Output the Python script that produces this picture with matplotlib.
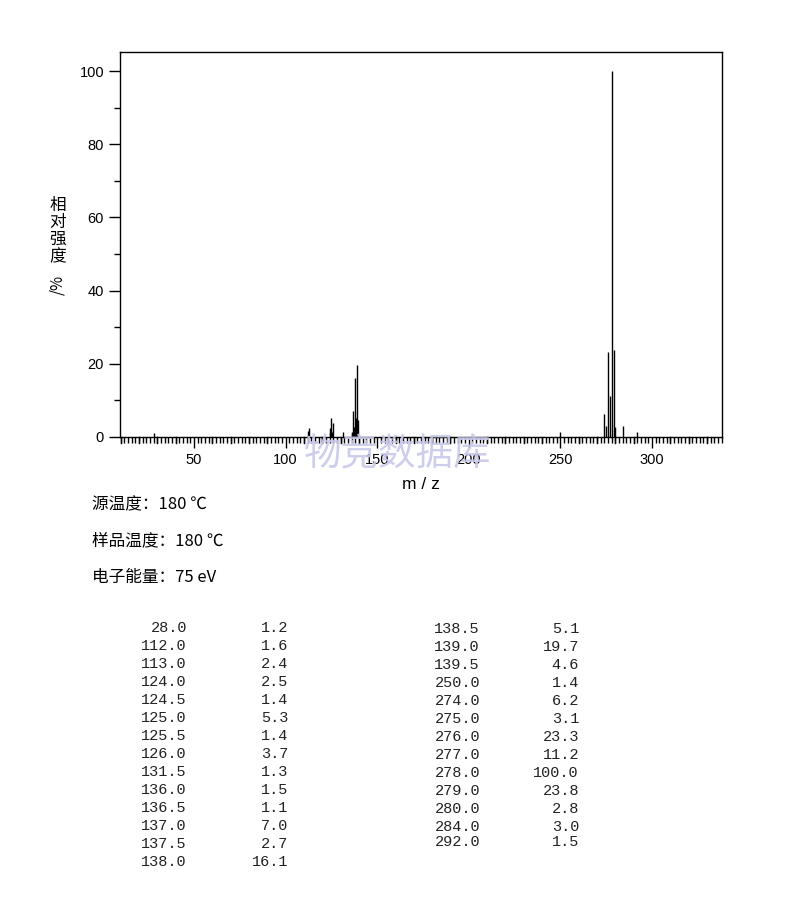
import numpy as np
import matplotlib.pyplot as plt
from matplotlib.ticker import MultipleLocator

# peak list (m/z, relative intensity %)
mz = [28.0, 112.0, 113.0, 124.0, 124.5, 125.0, 125.5, 126.0, 131.5, 136.0,
      136.5, 137.0, 137.5, 138.0, 138.5, 139.0, 139.5, 250.0, 274.0, 275.0,
      276.0, 277.0, 278.0, 279.0, 280.0, 284.0, 292.0]
inten = [1.2, 1.6, 2.4, 2.5, 1.4, 5.3, 1.4, 3.7, 1.3, 1.5,
         1.1, 7.0, 2.7, 16.1, 5.1, 19.7, 4.6, 1.4, 6.2, 3.1,
         23.3, 11.2, 100.0, 23.8, 2.8, 3.0, 1.5]

info = ['源温度：180 ℃', '样品温度：180 ℃', '电子能量：75 eV']

cjk = ['Noto Sans CJK SC', 'DejaVu Sans']

fig = plt.figure(figsize=(7.94, 9.07), dpi=100)
ax = fig.add_axes([0.1511, 0.5182, 0.7582, 0.4245])

ax.vlines(mz, 0, inten, color='black', linewidth=1)
ax.set_xlim(9.6, 338.2)
ax.set_ylim(0, 105.2)

ax.xaxis.set_major_locator(MultipleLocator(50))
ax.xaxis.set_minor_locator(MultipleLocator(2))
ax.yaxis.set_major_locator(MultipleLocator(20))
ax.yaxis.set_minor_locator(MultipleLocator(10))
ax.tick_params(axis='both', which='major', length=8, width=1, labelsize=10.5)
ax.tick_params(axis='both', which='minor', length=4, width=1)
for lab in ax.get_xticklabels() + ax.get_yticklabels():
    lab.set_fontfamily('Liberation Sans')

# medium ticks every 10
for x in range(10, 340, 10):
    if x % 50 != 0:
        ax.plot([x, x], [0, -1.6], color='black', linewidth=1, clip_on=False)

for s in ax.spines.values():
    s.set_linewidth(1)

ax.set_xlabel('m / z', fontsize=12.5, family='Liberation Sans', labelpad=7)

# y label, stacked characters
fig.text(58 / 794, 1 - 197 / 907, '相\n对\n强\n度', family=cjk, fontsize=12,
         ha='center', va='top', linespacing=1.0)
fig.text(58 / 794, 1 - 285 / 907, '/%', family=cjk, fontsize=11,
         ha='center', va='center', rotation=90)

# watermark
fig.text(398 / 794, 1 - 455 / 907, '物竞数据库', family=cjk, fontsize=27,
         color='#c8c8ea', ha='center', va='center', alpha=0.9, zorder=5)

# instrument info
for i, t in enumerate(info):
    fig.text(92 / 794, 1 - (505 + 36 * i) / 907, t, family=cjk, fontsize=12,
             ha='left', va='center')

# peak table
n_left = 14
for i in range(len(mz)):
    if i < n_left:
        xa, xb, y = 187, 288, 628 + 18 * i
    else:
        j = i - n_left
        xa, xb, y = 480, 579, 629 + 18 * j
        if j == len(mz) - n_left - 1:
            y -= 3
    fig.text(xa / 794, 1 - y / 907, '%.1f' % mz[i], family='Liberation Mono',
             fontsize=11, ha='right', va='center', color='#222222')
    fig.text(xb / 794, 1 - y / 907, '%.1f' % inten[i], family='Liberation Mono',
             fontsize=11, ha='right', va='center', color='#222222')

fig.savefig('out.png', dpi=100)
